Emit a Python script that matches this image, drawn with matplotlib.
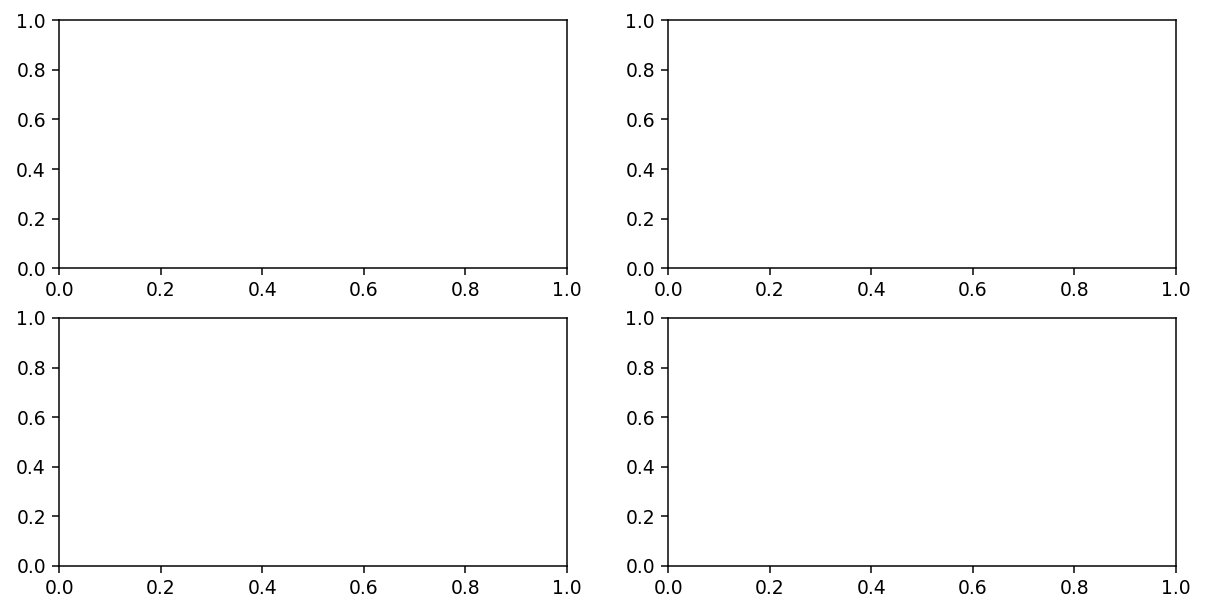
import matplotlib
matplotlib.use("Agg")
import matplotlib.pyplot as plt

# four empty panels, default limits 0..1
nrows = 2
ncols = 2

dpi = 135
fig, axes = plt.subplots(nrows, ncols, figsize=(1206 / dpi, 612 / dpi), dpi=dpi)
fig.subplots_adjust(left=0.049, right=0.975, top=0.967, bottom=0.0752,
                    wspace=0.2, hspace=0.2)

plt.savefig("out.png", dpi=dpi)
